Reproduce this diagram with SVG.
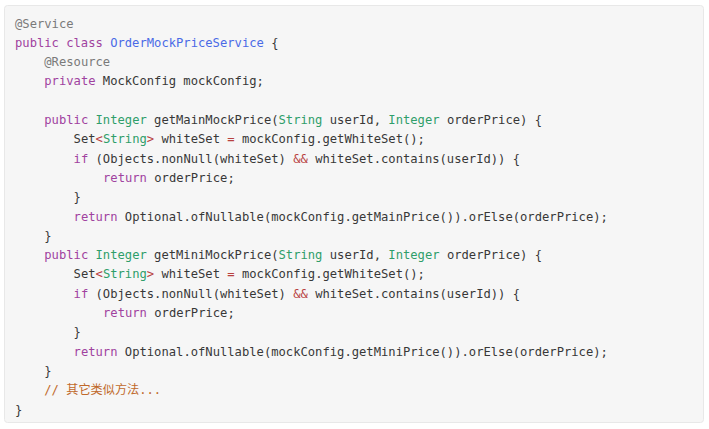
<svg xmlns="http://www.w3.org/2000/svg" width="709" height="429" viewBox="0 0 709 429" xml:space="preserve">
<style>
text{font-family:"DejaVu Sans Mono","Noto Sans CJK SC",monospace;font-size:12.17px;fill:#383838;white-space:pre}
.k{fill:#a0429f}
.c{fill:#4a6ae6}
.t{fill:#2f9e6a}
.o{fill:#b8413f}
.a{fill:#7a7a7a}
.m{fill:#c0692a}
</style>
<rect x="4.5" y="5.5" width="699" height="417" rx="3" fill="#f6f6f6" stroke="#e8e8e8"/>
<g id="code">
<text x="15" y="27.5" class="a">@Service</text>
<text x="15" y="46.8"><tspan class="k">public class</tspan> <tspan class="c">OrderMockPriceService</tspan> {</text>
<text x="44.3" y="66.1" class="a">@Resource</text>
<text x="44.3" y="85.4"><tspan class="k">private</tspan> MockConfig mockConfig;</text>
<text x="44.3" y="124"><tspan class="k">public</tspan> <tspan class="t">Integer</tspan> getMainMockPrice(<tspan class="t">String</tspan> userId, <tspan class="t">Integer</tspan> orderPrice) {</text>
<text x="73.6" y="143.3">Set<tspan class="o">&lt;</tspan><tspan class="t">String</tspan><tspan class="o">&gt;</tspan> whiteSet <tspan class="o">=</tspan> mockConfig.getWhiteSet();</text>
<text x="73.6" y="162.6"><tspan class="k">if</tspan> (Objects.nonNull(whiteSet) <tspan class="o">&amp;&amp;</tspan> whiteSet.contains(userId)) {</text>
<text x="103" y="181.9"><tspan class="k">return</tspan> orderPrice;</text>
<text x="73.6" y="201.2">}</text>
<text x="73.6" y="220.5"><tspan class="k">return</tspan> Optional.ofNullable(mockConfig.getMainPrice()).orElse(orderPrice);</text>
<text x="44.3" y="239.8">}</text>
<text x="44.3" y="259.1"><tspan class="k">public</tspan> <tspan class="t">Integer</tspan> getMiniMockPrice(<tspan class="t">String</tspan> userId, <tspan class="t">Integer</tspan> orderPrice) {</text>
<text x="73.6" y="278.4">Set<tspan class="o">&lt;</tspan><tspan class="t">String</tspan><tspan class="o">&gt;</tspan> whiteSet <tspan class="o">=</tspan> mockConfig.getWhiteSet();</text>
<text x="73.6" y="297.7"><tspan class="k">if</tspan> (Objects.nonNull(whiteSet) <tspan class="o">&amp;&amp;</tspan> whiteSet.contains(userId)) {</text>
<text x="103" y="317"><tspan class="k">return</tspan> orderPrice;</text>
<text x="73.6" y="336.3">}</text>
<text x="73.6" y="355.6"><tspan class="k">return</tspan> Optional.ofNullable(mockConfig.getMiniPrice()).orElse(orderPrice);</text>
<text x="44.3" y="374.9">}</text>
<text x="44.3" y="394.2" class="m">// 其它类似方法...</text>
<text x="15" y="413.5">}</text>
</g>
</svg>
